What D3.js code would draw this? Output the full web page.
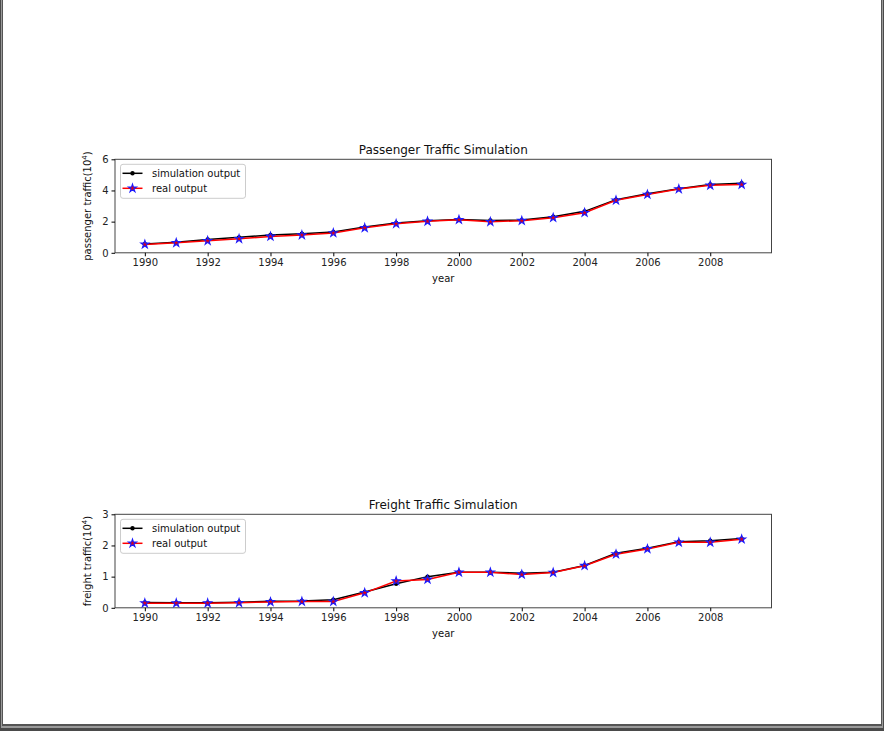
<!doctype html>
<html lang="en">
<head>
  <meta charset="utf-8">
  <title>Traffic Simulation</title>
  <script src="https://d3js.org/d3.v7.min.js"></script>
  <style>
    body { margin: 0; background: #fff; font-family: "DejaVu Sans", sans-serif; }
    svg { display: block; }
  </style>
</head>
<body>
  <svg xmlns="http://www.w3.org/2000/svg"></svg>
  <script>
    // years on the x axis
    var years = d3.range(1990, 2010);
    var xTicks = [1990, 1992, 1994, 1996, 1998, 2000, 2002, 2004, 2006, 2008];

    // passenger traffic (10^4)
    var passengerSim  = [0.56, 0.67, 0.86, 0.99, 1.14, 1.22, 1.33, 1.65, 1.91, 2.06, 2.14, 2.08, 2.10, 2.31, 2.66, 3.41, 3.79, 4.11, 4.39, 4.47];
    var passengerReal = [0.54, 0.64, 0.77, 0.90, 1.05, 1.14, 1.27, 1.60, 1.86, 2.02, 2.12, 1.99, 2.06, 2.25, 2.57, 3.37, 3.74, 4.09, 4.33, 4.38];
    var passengerTicks = [0, 2, 4, 6];

    // freight traffic (10^4)
    var freightSim  = [0.17, 0.16, 0.16, 0.18, 0.21, 0.22, 0.26, 0.51, 0.77, 1.00, 1.14, 1.14, 1.11, 1.14, 1.36, 1.75, 1.91, 2.12, 2.15, 2.22];
    var freightReal = [0.15, 0.15, 0.15, 0.16, 0.19, 0.20, 0.20, 0.48, 0.86, 0.91, 1.14, 1.14, 1.07, 1.13, 1.35, 1.72, 1.89, 2.10, 2.10, 2.20];
    var freightTicks = [0, 1, 2, 3];

    var W = 884, H = 731;
    var svg = d3.select("svg").attr("width", W).attr("height", H);

    // window frame
    svg.append("rect").attr("x", 0).attr("y", 0).attr("width", W).attr("height", H).attr("fill", "#4a4a4a");
    svg.append("rect").attr("x", 1).attr("y", -2).attr("width", W - 2).attr("height", H - 1).attr("fill", "#9a9a9a");
    svg.append("rect").attr("x", 2).attr("y", -2).attr("width", W - 4).attr("height", H - 3).attr("fill", "#555");
    svg.append("rect").attr("x", 3).attr("y", -2).attr("width", W - 6).attr("height", H - 5).attr("fill", "#fff");

    function drawPanel(cfg) {
      var left = 115, right = 771.5, top = cfg.top, bottom = cfg.top + 93.5;

      var x = d3.scaleLinear().domain([1989.05, 2009.95]).range([left, right]);
      var y = d3.scaleLinear().domain([0, cfg.ymax]).range([bottom, top]);

      var g = svg.append("g");

      // frame
      g.append("rect")
        .attr("x", left).attr("y", top)
        .attr("width", right - left).attr("height", bottom - top)
        .attr("fill", "none").attr("stroke", "#444").attr("stroke-width", 1);

      g.append("g")
        .attr("transform", "translate(0," + bottom + ")")
        .call(d3.axisBottom(x).tickValues(xTicks).tickFormat(d3.format("d")).tickSizeOuter(0).tickSize(3.5).tickPadding(3))
        .call(a => a.select(".domain").remove())
        .call(a => a.selectAll("text").attr("font-size", 10).attr("font-family", "DejaVu Sans").attr("fill", "#222"));

      g.append("g")
        .attr("transform", "translate(" + left + ",0)")
        .call(d3.axisLeft(y).tickValues(cfg.yticks).tickFormat(d3.format("d")).tickSizeOuter(0).tickSize(3.5).tickPadding(3))
        .call(a => a.select(".domain").remove())
        .call(a => a.selectAll("text").attr("font-size", 10).attr("font-family", "DejaVu Sans").attr("fill", "#222"));

      // title
      g.append("text")
        .attr("x", (left + right) / 2).attr("y", top - 5)
        .attr("text-anchor", "middle")
        .attr("font-size", 12).attr("fill", "#111")
        .text(cfg.title);

      // x label
      g.append("text")
        .attr("x", (left + right) / 2).attr("y", bottom + 29)
        .attr("text-anchor", "middle")
        .attr("font-size", 10).attr("fill", "#111")
        .text("year");

      // y label
      var yl = g.append("text")
        .attr("transform", "translate(" + 91 + "," + ((top + bottom) / 2) + ") rotate(-90)")
        .attr("text-anchor", "middle")
        .attr("font-size", 10).attr("fill", "#111");
      yl.append("tspan").text(cfg.ylabel + "(10");
      yl.append("tspan").attr("font-size", 7).attr("dy", -4).text("4");
      yl.append("tspan").attr("dy", 4).text(")");

      var line = d3.line().x((d, i) => x(years[i])).y(d => y(d));
      var star = d3.symbol().type(d3.symbolStar).size(20);

      g.append("path").datum(cfg.sim)
        .attr("d", line).attr("fill", "none").attr("stroke", "#000").attr("stroke-width", 1.5);
      g.selectAll(".sim").data(cfg.sim).enter().append("circle")
        .attr("cx", (d, i) => x(years[i])).attr("cy", d => y(d))
        .attr("r", 2.2).attr("fill", "#000");

      g.append("path").datum(cfg.real)
        .attr("d", line).attr("fill", "none").attr("stroke", "#f00").attr("stroke-width", 1.5);
      g.selectAll(".real").data(cfg.real).enter().append("path")
        .attr("transform", (d, i) => "translate(" + x(years[i]) + "," + y(d) + ")")
        .attr("d", star).attr("fill", "#e00010").attr("stroke", "#1a1aff").attr("stroke-width", 1.1);

      // legend
      var lg = g.append("g").attr("transform", "translate(" + (left + 5.5) + "," + (top + 5) + ")");
      lg.append("rect")
        .attr("width", 125).attr("height", 34).attr("rx", 2.5)
        .attr("fill", "#fff").attr("fill-opacity", 0.8)
        .attr("stroke", "#ccc").attr("stroke-width", 1);
      lg.append("line").attr("x1", 2).attr("x2", 22).attr("y1", 9).attr("y2", 9)
        .attr("stroke", "#000").attr("stroke-width", 1.5);
      lg.append("circle").attr("cx", 12).attr("cy", 9).attr("r", 2.2).attr("fill", "#000");
      lg.append("text").attr("x", 31.5).attr("y", 12.5).attr("font-size", 10).attr("fill", "#111").text("simulation output");
      lg.append("line").attr("x1", 2).attr("x2", 22).attr("y1", 24).attr("y2", 24)
        .attr("stroke", "#f00").attr("stroke-width", 1.5);
      lg.append("path").attr("transform", "translate(12,24)").attr("d", star)
        .attr("fill", "#e00010").attr("stroke", "#1a1aff").attr("stroke-width", 1.1);
      lg.append("text").attr("x", 31.5).attr("y", 27.5).attr("font-size", 10).attr("fill", "#111").text("real output");
    }

    drawPanel({
      top: 159.3, ymax: 6, yticks: passengerTicks,
      title: "Passenger Traffic Simulation", ylabel: "passenger traffic",
      sim: passengerSim, real: passengerReal
    });

    drawPanel({
      top: 514.3, ymax: 3, yticks: freightTicks,
      title: "Freight Traffic Simulation", ylabel: "freight traffic",
      sim: freightSim, real: freightReal
    });
  </script>
</body>
</html>
